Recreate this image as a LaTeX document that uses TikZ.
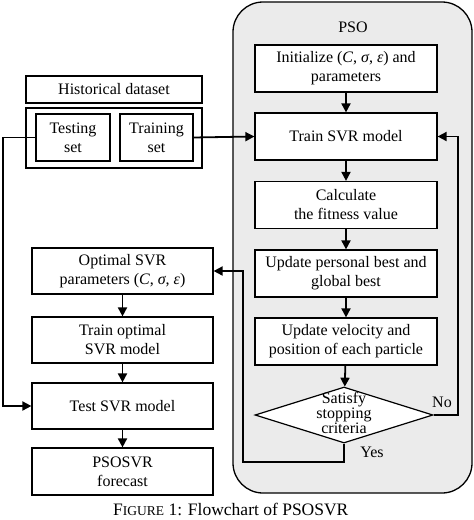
\documentclass[tikz,border=0pt]{standalone}
\usepackage{fontspec}
\setmainfont{Liberation Serif}
\usetikzlibrary{shapes.geometric,arrows.meta}

\begin{document}
\begin{tikzpicture}[x=1pt,y=-1pt,
		font=\fontsize{16}{19}\selectfont,
		box/.style={draw,line width=1.2pt,fill=white,align=center,minimum width=182pt,minimum height=47pt,inner sep=1pt},
		flow/.style={-{Triangle[length=9pt,width=9pt]},line width=1.8pt}]
		\useasboundingbox (0,0) rectangle (474,520);
		\node[draw,line width=1.3pt,fill=black!8,rounded corners=30pt,minimum width=239pt,minimum height=491pt] (pso) at (352.5,247.5) {};
		\node (psolabel) at (353,27) {PSO};
		\node[box] (init) at (346,68.5) {Initialize (\textit{C}, \textit{σ}, \textit{ε}) and\\parameters};
		\node[box] (trainsvr) at (346,136.5) {Train SVR model};
		\node[box] (calc) at (346,205) {Calculate\\the fitness value};
		\node[box] (pbest) at (346,273.5) {Update personal best and\\global best};
		\node[box] (vel) at (346,341.5) {Update velocity and\\position of each particle};
		\node[diamond,draw,line width=1.2pt,fill=white,minimum width=178pt,minimum height=56pt,inner sep=0pt] (stop) at (344,415) {};
		\node[align=center,font=\fontsize{16}{15}\selectfont] (stoptext) at (344,413) {Satisfy\\stopping\\criteria};
		\node (no) at (442,402) {No};
		\node (yes) at (372,452) {Yes};

		\node[box,minimum width=176pt,minimum height=27pt] (hist) at (114,89.5) {Historical dataset};
		\node[box,minimum width=176pt,minimum height=60pt] (dataset) at (114,138) {};
		\node[box,minimum width=74pt] (testing) at (73,137.5) {Testing\\set};
		\node[box,minimum width=73pt] (training) at (156.5,137.5) {Training\\set};

		\node[box,minimum width=181pt,minimum height=46pt] (opt) at (122.5,271) {Optimal SVR\\parameters (\textit{C}, \textit{σ}, \textit{ε})};
		\node[box,minimum width=181pt,minimum height=46pt] (trainopt) at (122.5,340) {Train optimal\\SVR model};
		\node[box,minimum width=181pt,minimum height=46pt] (test) at (122.5,406) {Test SVR model};
		\node[box,minimum width=181pt,minimum height=47pt] (forecast) at (122.5,471.5) {PSOSVR\\forecast};

		\node[anchor=base west,inner sep=0pt,font=\fontsize{17.5}{19}\selectfont] (caption) at (113,515.5) {F{\fontsize{13.5}{14}\selectfont IGURE} 1: Flowchart of PSOSVR};

		\coordinate (leftx) at (3,0);
		\coordinate (nox) at (458,0);
		\coordinate (yesturn) at (243,462);

		\draw[flow] (init) -- (trainsvr);
		\draw[flow] (trainsvr) -- (calc);
		\draw[flow] (calc) -- (pbest);
		\draw[flow] (pbest) -- (vel);
		\draw[flow] (vel) -- (stop);
		\draw[flow] (opt) -- (trainopt);
		\draw[flow] (trainopt) -- (test);
		\draw[flow] (test) -- (forecast);
		\draw[flow] (training.east) -- (trainsvr.west);
		\draw[flow] (testing.west) -- (testing.west -| leftx) |- (test.west);
		\draw[flow] (stop.east) -- (stop.east -| nox) |- (trainsvr.east);
		\draw[flow] (stop.south) |- (yesturn) |- (opt.east);
\end{tikzpicture}
\end{document}
